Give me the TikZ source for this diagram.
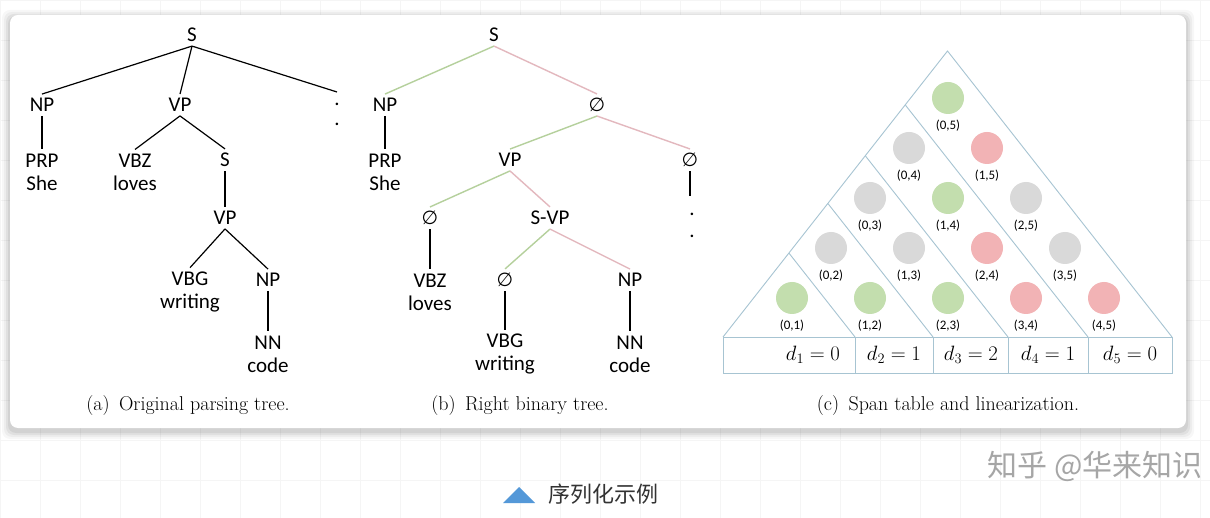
\documentclass[tikz,border=0pt]{standalone}
\usepackage{fontspec}
\newfontfamily\tf{Carlito}
\newfontfamily\djvf{DejaVu Sans}
\newfontfamily\cjk{Noto Sans CJK SC}
\usetikzlibrary{calc}
\definecolor{eg}{HTML}{B5D09C}
\definecolor{ep}{HTML}{E3B8BE}
\definecolor{cg}{HTML}{C3DEAE}
\definecolor{cr}{HTML}{F2B3B5}
\definecolor{cy}{HTML}{D9D9D9}
\definecolor{tb}{HTML}{A7C4D2}
\newcommand\emp{{\djvf\fontsize{19}{21}\selectfont ∅}}
\tikzset{
 lab/.style={font=\tf\fontsize{21}{23}\selectfont, inner sep=4pt, align=center},
 capt/.style={font=\fontsize{20}{22}\selectfont},
 e/.style={line width=1.2pt, black},
 eG/.style={line width=1.4pt, eg},
 eP/.style={line width=1.4pt, ep},
 dot/.style={circle, minimum size=32pt, inner sep=0pt},
 sl/.style={font=\tf\fontsize{13}{14}\selectfont, inner sep=0pt},
 dl/.style={font=\fontsize{22}{24}\selectfont}
}
\begin{document}
\begin{tikzpicture}[x=1pt,y=-1pt]
\useasboundingbox (0,0) rectangle (1210,518);
\fill[white] (0,0) rectangle (1210,518);
\foreach \x in {0,40,...,1200} \draw[black!4] (\x,0) -- (\x,518);
\foreach \y in {0,40,...,500} \draw[black!4] (0,\y) -- (1210,\y);
\foreach \i/\o in {8/0.03,6/0.04,4/0.05,2/0.06}
  \fill[black,opacity=\o,rounded corners=8pt] (10-\i,15-\i+3) rectangle (1186+\i,428+\i+3);
\fill[white,rounded corners=8pt] (10,15) rectangle (1186,428);
% (a)
\node[lab] (aS) at (192,35) {S};
\node[lab] (aNP) at (42,105) {NP};
\node[lab] (aVP) at (180,105) {VP};
\node[lab] (aD) at (337,104) {.};
\node[lab] (aD2) at (337,124) {.};
\node[lab] (aPRP) at (42,172) {PRP\\She};
\node[lab] (aVBZ) at (135,172) {VBZ\\loves};
\node[lab] (aS2) at (225,160) {S};
\node[lab] (aVP2) at (225,218) {VP};
\node[lab] (aVBG) at (190,292) {VBG\\writing};
\node[lab] (aNP2) at (268,280) {NP};
\node[lab] (aNN) at (268,354) {NN\\code};
\draw[e] (aS.south) -- (aNP.north);
\draw[e] (aS.south) -- (aVP.north);
\draw[e] (aS.south) -- (337,92);
\draw[e] (aNP.south) -- (aPRP.north);
\draw[e] (aVP.south) -- (aVBZ.north);
\draw[e] (aVP.south) -- (aS2.north);
\draw[e] (aS2.south) -- (aVP2.north);
\draw[e] (aVP2.south) -- (aVBG.north);
\draw[e] (aVP2.south) -- (aNP2.north);
\draw[e] (aNP2.south) -- (aNN.north);
\node[capt] (ca) at (188,406) {(a)\, Original parsing tree.};
% (b)
\node[lab] (bS) at (494,35) {S};
\node[lab] (bNP) at (385,105) {NP};
\node[lab] (bE1) at (597,105) {\emp};
\node[lab] (bPRP) at (385,172) {PRP\\She};
\node[lab] (bVP) at (510,160) {VP};
\node[lab] (bE2) at (690,160) {\emp};
\node[lab] (bd1) at (692,214) {.};
\node[lab] (bd2) at (692,236) {.};
\node[lab] (bE3) at (430,218) {\emp};
\node[lab] (bSVP) at (550,218) {S-VP};
\node[lab] (bVBZ) at (430,292) {VBZ\\loves};
\node[lab] (bE4) at (505,280) {\emp};
\node[lab] (bNP2) at (630,280) {NP};
\node[lab] (bVBG) at (505,354) {VBG\\writing};
\node[lab] (bNN) at (630,354) {NN\\code};
\draw[eG] (bS.south) -- (bNP.north);
\draw[eP] (bS.south) -- (bE1.north);
\draw[e] (bNP.south) -- (bPRP.north);
\draw[eG] (bE1.south) -- (bVP.north);
\draw[eP] (bE1.south) -- (bE2.north);
\draw[e] (bE2.south) -- (690,196);
\draw[eG] (bVP.south) -- (bE3.north);
\draw[eP] (bVP.south) -- (bSVP.north);
\draw[e] (bE3.south) -- (bVBZ.north);
\draw[eG] (bSVP.south) -- (bE4.north);
\draw[eP] (bSVP.south) -- (bNP2.north);
\draw[e] (bE4.south) -- (bVBG.north);
\draw[e] (bNP2.south) -- (bNN.north);
\node[capt] (cb) at (520,406) {(b)\, Right binary tree.};
% (c)
\coordinate (L) at (723,337);
\coordinate (R) at (1172,337);
\coordinate (A) at (947.5,51);
\draw[tb, line width=0.9pt] (L) -- (A) -- (R);
\foreach \b in {855,933,1008,1088}
  \draw[tb, line width=0.9pt] (\b,337) -- ({(723+\b)/2},{337-1.27*(\b-723)/2});
\draw[tb, line width=0.9pt] (723,337) rectangle (1172,373);
\foreach \b in {855,933,1008,1088} \draw[tb, line width=0.9pt] (\b,337) -- (\b,373);
\foreach \i/\j/\c in {0/1/cg,1/2/cg,2/3/cg,3/4/cr,4/5/cr,0/2/cy,1/3/cy,2/4/cr,3/5/cy,0/3/cy,1/4/cg,2/5/cy,0/4/cy,1/5/cr,0/5/cg}{
  \pgfmathsetmacro\px{792+78*\i+39*(\j-\i-1)}
  \pgfmathsetmacro\py{298-50*(\j-\i-1)}
  \node[dot, fill=\c] (c\i\j) at (\px,\py) {};
  \node[sl] (t\i\j) at (\px,\py+28) {(\i,\j)};
}
\node[dl] (d1) at (813,355) {$d_1=0$};
\node[dl] (d2) at (894,355) {$d_2=1$};
\node[dl] (d3) at (971,355) {$d_3=2$};
\node[dl] (d4) at (1048,355) {$d_4=1$};
\node[dl] (d5) at (1130,355) {$d_5=0$};
\node[capt] (cc) at (948,406) {(c)\, Span table and linearization.};
% footer
\fill[cyan!60!blue!70] (503,503) -- (519,487) -- (535,503) -- cycle;
\node[font=\cjk\fontsize{22}{24}\selectfont, anchor=west, black!80] (ft) at (545,494) {序列化示例};
\node[font=\cjk\fontsize{30}{32}\selectfont, black!35] (wm) at (1095,466) {知乎 @华来知识};
\end{tikzpicture}
\end{document}
